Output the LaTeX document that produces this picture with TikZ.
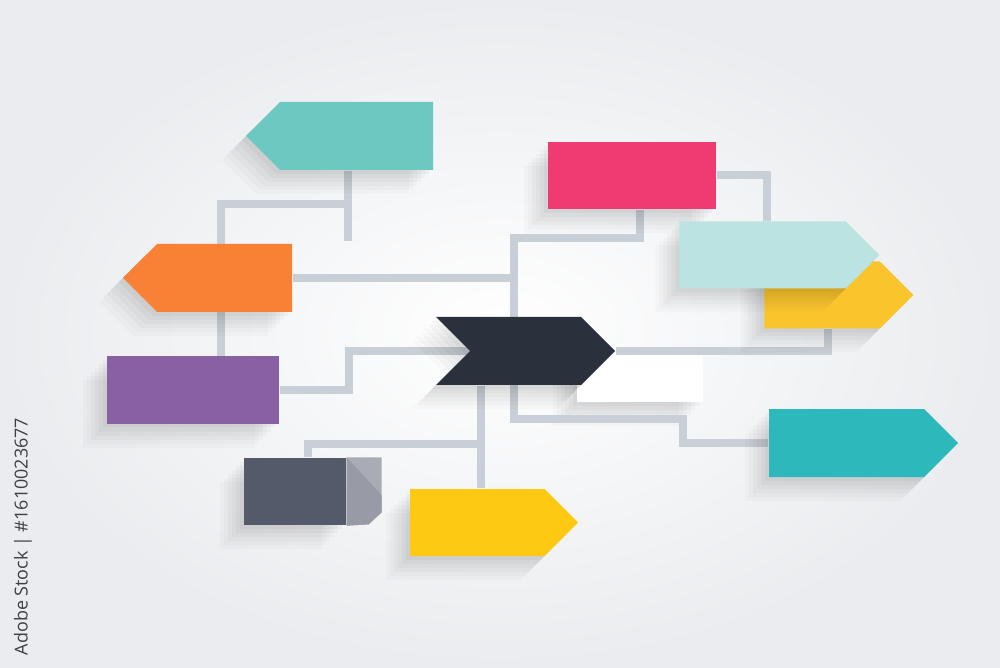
\documentclass[tikz,border=0pt]{standalone}
\usepackage{xcolor}
\usepackage{fontspec}
\usepackage{tikz}
\usetikzlibrary{shapes}
\usetikzlibrary{shadows}
\newfontfamily\stockfont{Open Sans}
\pgfdeclarelayer{paper}
\pgfdeclarelayer{wires}
\pgfsetlayers{paper,wires,main}

\begin{document}
\begin{tikzpicture}
    [%%%%%%%%%%%%%%%%%%%%%%%%%%%%%%
        shade/.style={general shadow={fill=black,opacity=.018,shadow xshift=-.24cm,shadow yshift=-.24cm},
            general shadow={fill=black,opacity=.02,shadow xshift=-.20cm,shadow yshift=-.20cm},
            general shadow={fill=black,opacity=.022,shadow xshift=-.16cm,shadow yshift=-.16cm},
            general shadow={fill=black,opacity=.025,shadow xshift=-.12cm,shadow yshift=-.12cm},
            general shadow={fill=black,opacity=.028,shadow xshift=-.08cm,shadow yshift=-.08cm},
            general shadow={fill=black,opacity=.03,shadow xshift=-.04cm,shadow yshift=-.04cm}},
        card/.style={rectangle,minimum height=0.67cm,inner sep=0pt,shade},
        flag/.style={card,signal,signal to=east},
        link/.style={draw=wire,line width=0.08cm}
    ]%%%%%%%%%%%%%%%%%%%%%%%%%%%%%%
\definecolor{paper}{HTML}{EAECEF}
\definecolor{wire}{HTML}{C9CFD6}
\definecolor{tealtop}{HTML}{6CC8C1}
\definecolor{rosered}{HTML}{F03A72}
\definecolor{tangerine}{HTML}{F98136}
\definecolor{icecyan}{HTML}{BBE3E1}
\definecolor{sunyellow}{HTML}{F9C42C}
\definecolor{inkblue}{HTML}{2B303D}
\definecolor{plum}{HTML}{8A60A4}
\definecolor{seateal}{HTML}{2DB8BC}
\definecolor{slatebox}{HTML}{555A6A}
\definecolor{flaplight}{HTML}{A9ACB5}
\definecolor{flapdark}{HTML}{989BA5}
\definecolor{lemon}{HTML}{FEC912}
\definecolor{stockgray}{HTML}{3E4045}

\begin{pgfonlayer}{paper}
\shade[inner color=white,outer color=paper] (0,0) rectangle (10,6.67);
\end{pgfonlayer}
\useasboundingbox (0,0) rectangle (10,6.67);

\node[flag,signal to=west,fill=tealtop,minimum width=1.87cm,minimum height=0.68cm] (tealA) at (3.565,5.31){};
\node[card,fill=rosered,minimum width=1.68cm] (pink) at (6.32,4.915){};
\node[flag,signal to=west,fill=tangerine,minimum width=1.69cm,minimum height=0.68cm] (orange) at (2.245,3.89){};
\node[flag,fill=sunyellow,minimum width=1.49cm] (yellowR) at (8.22,3.72){};
\node[flag,fill=icecyan,minimum width=2.00cm] (cyan) at (7.625,4.12){};
\node[flag,signal from=west,fill=inkblue,minimum width=1.79cm,minimum height=0.68cm] (chev) at (5.255,3.16){};
\node[card,fill=plum,minimum width=1.72cm] (purple) at (1.93,2.77){};
\node[flag,fill=seateal,minimum width=1.89cm,minimum height=0.68cm] (tealB) at (8.465,2.24){};
\node[card,fill=slatebox,minimum width=1.02cm] (gbox) at (2.95,1.755){};
\node[flag,fill=lemon,minimum width=1.68cm] (yellowB) at (4.7725,1.445){};

\fill[flaplight] (gbox.north east) -- ++(0.35,0) -- ++(0,-0.55) -- ++(-0.13,-0.12) -- (gbox.south east) -- cycle;
\fill[flapdark] (gbox.north east) -- ++(0.35,-0.38) -- ++(0,-0.17) -- ++(-0.13,-0.12) -- (gbox.south east) -- cycle;

\node[rotate=90,text=stockgray,font=\stockfont\fontsize{5.1}{6}\selectfont] (stock) at (0.23,1.305) {Adobe Stock | \#1610023677};

\coordinate (tA) at (3.48,4.63);
\coordinate (lA) at (2.21,4.63);
\coordinate (hub) at (5.14,4.29);
\coordinate (pk) at (6.40,4.29);
\coordinate (hd) at (5.14,2.48);
\coordinate (st) at (6.83,2.48);
\coordinate (pc) at (7.67,4.90);
\coordinate (yc) at (8.28,3.16);
\coordinate (pv) at (3.49,3.16);
\coordinate (dn) at (4.81,2.23);
\coordinate (gb) at (3.08,2.23);

\begin{pgfonlayer}{wires}
\node[card,fill=white,minimum width=1.26cm,minimum height=0.52cm] (panel) at (6.40,2.91){};

\draw[link] (tealA.south -| tA) -- ++(0,-0.70);
\draw[link] (tA) -- (lA) -- (purple.north -| lA);
\draw[link] (orange.east) -- (orange.east -| hub);
\draw[link] (pink.south -| pk) -- (pk) -- (hub) -- (hd) -- (st) |- (tealB.west);
\draw[link] (pink.east) -| (cyan.north -| pc);
\draw[link] (chev.east) -| (yellowR.south -| yc);
\draw[link] (purple.east) -| (pv) -- (chev.center);
\draw[link] (chev.south -| dn) -- (yellowB.north -| dn);
\draw[link] (gbox.north -| gb) |- (dn);
\end{pgfonlayer}

\end{tikzpicture}
\end{document}
